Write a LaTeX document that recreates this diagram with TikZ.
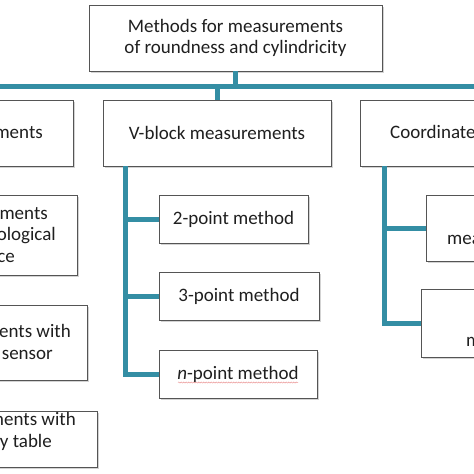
\documentclass[tikz,border=0pt]{standalone}
\usepackage{fontspec}
\setmainfont{Carlito}
\usetikzlibrary{shadows}
\usetikzlibrary{decorations.pathmorphing}
\definecolor{linkteal}{RGB}{52,142,164}
\definecolor{boxline}{RGB}{85,85,85}
\definecolor{spellred}{RGB}{220,70,70}

\begin{document}
\begin{tikzpicture}[x=1pt, y=-1pt, every node/.style={font=\fontsize{19}{20.5}\selectfont, text=black!88}]
		\tikzstyle{box}=[draw=boxline, line width=0.8pt, fill=white, rectangle, align=center, drop shadow={shadow xshift=2pt, shadow yshift=-2pt, opacity=0.35}]
		\tikzstyle{frag}=[inner sep=0pt, anchor=base east]
		\tikzstyle{fragw}=[inner sep=0pt, anchor=base west]
		\tikzstyle{link}=[draw=linkteal, line width=5pt]

		\useasboundingbox (0,0) rectangle (474,474);
		\clip (0,0) rectangle (474,474);

    % Top box
		\node[box, minimum width=293, minimum height=66](top) at (235.5,38){Methods for measurements\\of roundness and cylindricity};

    % First level
		\node[box, minimum width=153, minimum height=66](meas) at (-3.5,133){};
		\node[frag](measT) at (43,138){ments};
		\node[box, minimum width=228, minimum height=66](vb) at (217,133){V-block measurements};
		\node[box, minimum width=160, minimum height=66](cm) at (440,133){};
		\node[fragw](cmT) at (390,138){Coordinate};

    % Left column
		\node[box, minimum width=157, minimum height=80](l1) at (-1.5,235){};
		\node[frag](l1a) at (48,219){ments};
		\node[frag](l1b) at (56,240){ological};
		\node[frag](l1c) at (15,262){ce};

		\node[box, minimum width=167, minimum height=75](l2) at (3.5,342.5){};
		\node[frag](l2a) at (71,337){ents with};
		\node[frag](l2b) at (53,359){sensor};

		\node[box, minimum width=177, minimum height=56](l3) at (8.5,439){};
		\node[frag](l3a) at (76,425){ments with};
		\node[frag](l3b) at (52,447){y table};

    % V-block column
		\node[box, minimum width=149, minimum height=48](p2) at (233.5,219){2-point method};
		\node[box, minimum width=160, minimum height=48](p3) at (239,296){3-point method};
		\node[box, minimum width=158, minimum height=48](pn) at (238,374){{\itshape n}-point method};
		\draw[spellred, opacity=0.6, line width=0.4pt, decorate, decoration={snake, amplitude=0.6pt, segment length=2.5pt}]
			([xshift=-60pt, yshift=-3.5pt]pn.base) -- ([xshift=60pt, yshift=-3.5pt]pn.base);

    % Coordinate column
		\node[box, minimum width=114, minimum height=66](r1) at (483,228){};
		\node[fragw](r1T) at (447,244){mea};
		\node[box, minimum width=119, minimum height=68](r2) at (480.5,323){};
		\node[fragw](r2T) at (466,346){m};

    % Connectors
		\coordinate (busL) at (0,86);
		\coordinate (busR) at (474,86);
		\draw[link] (busL) -- (busR);
		\draw[link] (top.south) -- (top.south |- busL);
		\draw[link] (vb.north |- busL) -- (vb.north);

		\coordinate (vtrunk) at ([xshift=23pt]vb.south west);
		\draw[link] (vtrunk) |- (pn.west);
		\draw[link] (vtrunk |- p2.west) -- (p2.west);
		\draw[link] (vtrunk |- p3.west) -- (p3.west);

		\coordinate (ctrunk) at ([xshift=25pt]cm.south west);
		\draw[link] (ctrunk) |- (r2.west);
		\draw[link] (ctrunk |- r1.west) -- (r1.west);
\end{tikzpicture}
\end{document}
